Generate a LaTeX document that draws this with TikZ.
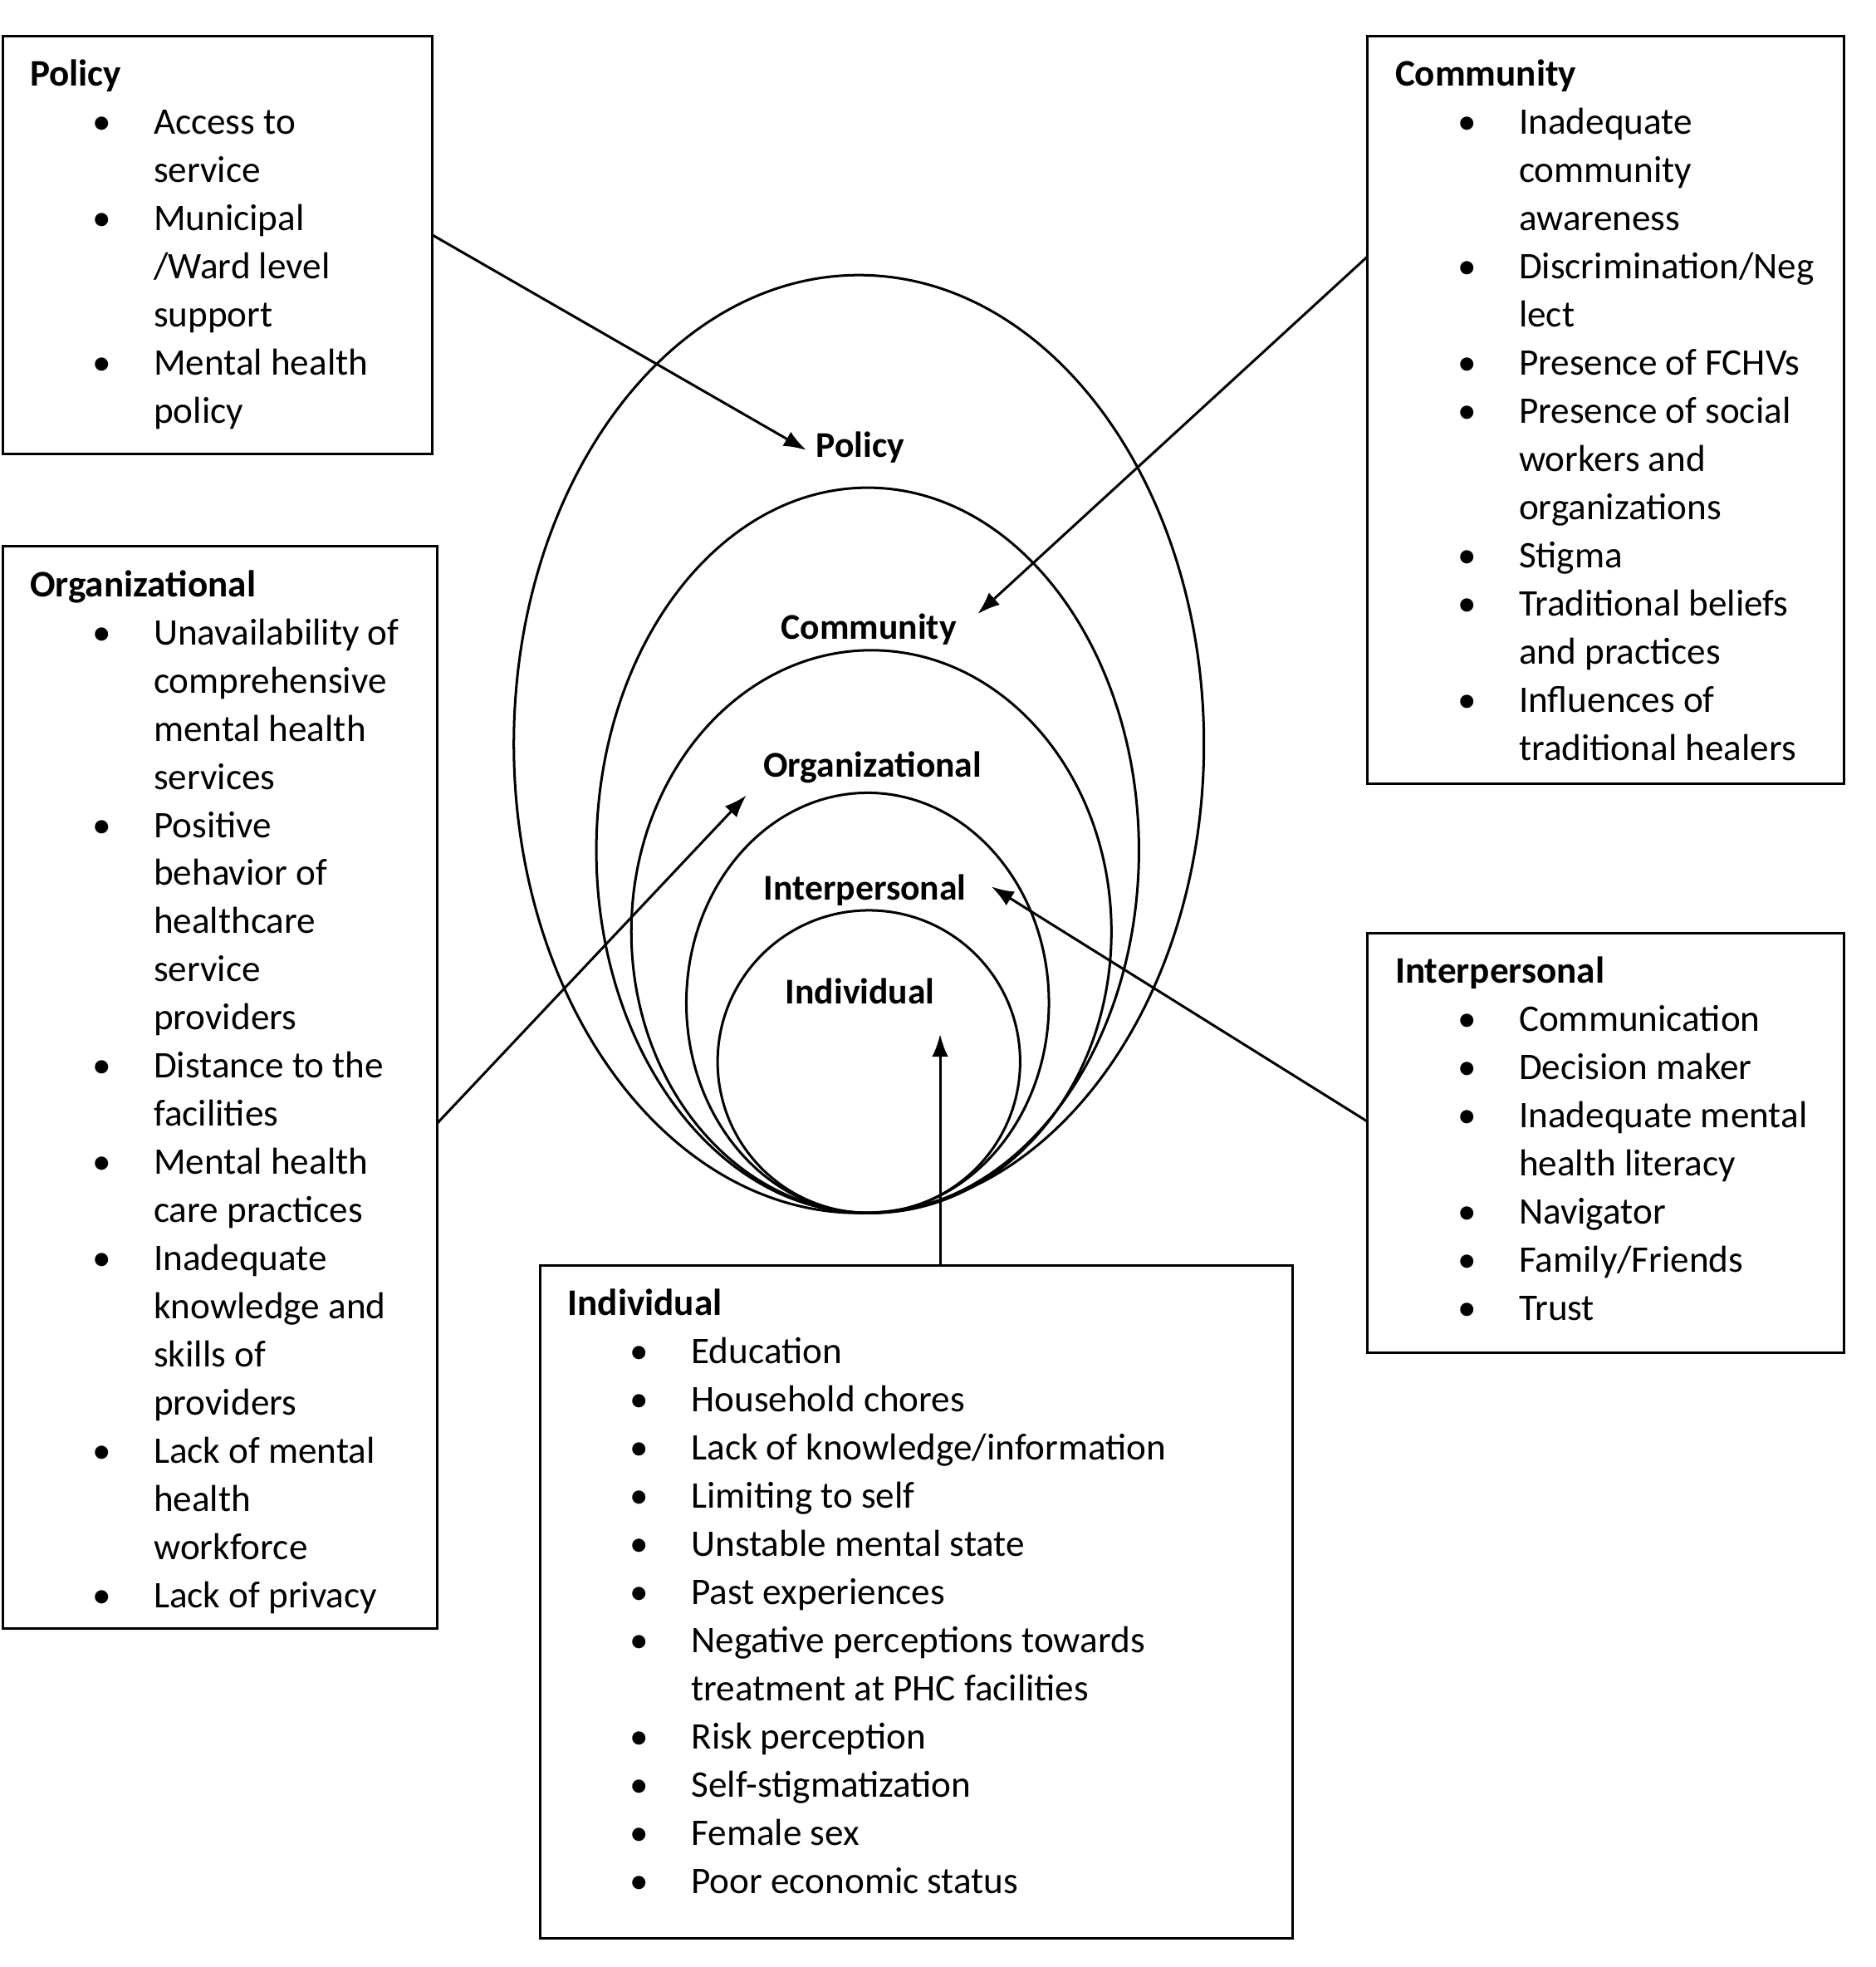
\documentclass[tikz,border=0pt]{standalone}
\usepackage{fontspec}
\setmainfont{Carlito}
\usetikzlibrary{arrows.meta}
\begin{document}
\newcommand{\hd}[1]{\textbf{#1}\\}
\newcommand{\bu}[1]{\makebox[99pt][l]{\hspace{50pt}\textbullet}#1\\}
\newcommand{\cl}[1]{\hspace{99pt}#1\\}
\begin{tikzpicture}[x=1pt,y=-1pt,line width=2pt,
  box/.style={draw,line width=2pt},
  txt/.style={anchor=north west,inner sep=0pt,align=left,font=\fontsize{30}{38.5}\selectfont},
  lab/.style={font=\fontsize{29}{34}\selectfont\bfseries},
  arr/.style={-{Latex[length=18pt,width=13pt]},line width=2pt}]
\useasboundingbox (0,0) rectangle (1500,1573);
% ellipses
\draw (687,595) ellipse [x radius=276,y radius=375];
\draw (694,680) ellipse [x radius=217,y radius=290];
\draw (697,745) ellipse [x radius=192,y radius=225];
\draw (694,802) ellipse [x radius=145,y radius=168];
\draw (695,849) ellipse [x radius=121,y radius=121];
\node[lab] (lp) at (688,358) {Policy};
\node[lab] (lc) at (695,503) {Community};
\node[lab] (lo) at (698,614) {Organizational};
\node[lab] (li) at (692,712) {Interpersonal};
\node[lab] (ld) at (688,793) {Individual};
% boxes
\draw[box] (2,29) rectangle (346,363);
\draw[box] (1094,29) rectangle (1475,627);
\draw[box] (2,437) rectangle (350,1302);
\draw[box] (1094,746) rectangle (1475,1082);
\draw[box] (432,1012) rectangle (1034,1550);
\node[txt] (tp) at (23,47) {\hd{Policy}\bu{Access to}\cl{service}\bu{Municipal}\cl{/Ward level}\cl{support}\bu{Mental health}\cl{policy}};
\node[txt] (tc) at (1115,47) {\hd{Community}\bu{Inadequate}\cl{community}\cl{awareness}\bu{Discrimination/Neg}\cl{lect}\bu{Presence of FCHVs}\bu{Presence of social}\cl{workers and}\cl{organizations}\bu{Stigma}\bu{Traditional beliefs}\cl{and practices}\bu{Influences of}\cl{traditional healers}};
\node[txt] (to) at (23,455) {\hd{Organizational}\bu{Unavailability of}\cl{comprehensive}\cl{mental health}\cl{services}\bu{Positive}\cl{behavior of}\cl{healthcare}\cl{service}\cl{providers}\bu{Distance to the}\cl{facilities}\bu{Mental health}\cl{care practices}\bu{Inadequate}\cl{knowledge and}\cl{skills of}\cl{providers}\bu{Lack of mental}\cl{health}\cl{workforce}\bu{Lack of privacy}};
\node[txt] (ti) at (1115,764) {\hd{Interpersonal}\bu{Communication}\bu{Decision maker}\bu{Inadequate mental}\cl{health literacy}\bu{Navigator}\bu{Family/Friends}\bu{Trust}};
\node[txt] (td) at (453,1030) {\hd{Individual}\bu{Education}\bu{Household chores}\bu{Lack of knowledge/information}\bu{Limiting to self}\bu{Unstable mental state}\bu{Past experiences}\bu{Negative perceptions towards}\cl{treatment at PHC facilities}\bu{Risk perception}\bu{Self-stigmatization}\bu{Female sex}\bu{Poor economic status}};
% arrows
\coordinate (a1) at (346,188); \coordinate (b1) at (645,360);
\coordinate (a2) at (1094,205); \coordinate (b2) at (782,491);
\coordinate (a3) at (350,898); \coordinate (b3) at (597,636);
\coordinate (a4) at (1094,897); \coordinate (b4) at (793,709);
\coordinate (a5) at (752,1012); \coordinate (b5) at (752,827);
\draw[arr] (a1) -- (b1);
\draw[arr] (a2) -- (b2);
\draw[arr] (a3) -- (b3);
\draw[arr] (a4) -- (b4);
\draw[arr] (a5) -- (b5);
\end{tikzpicture}
\end{document}
